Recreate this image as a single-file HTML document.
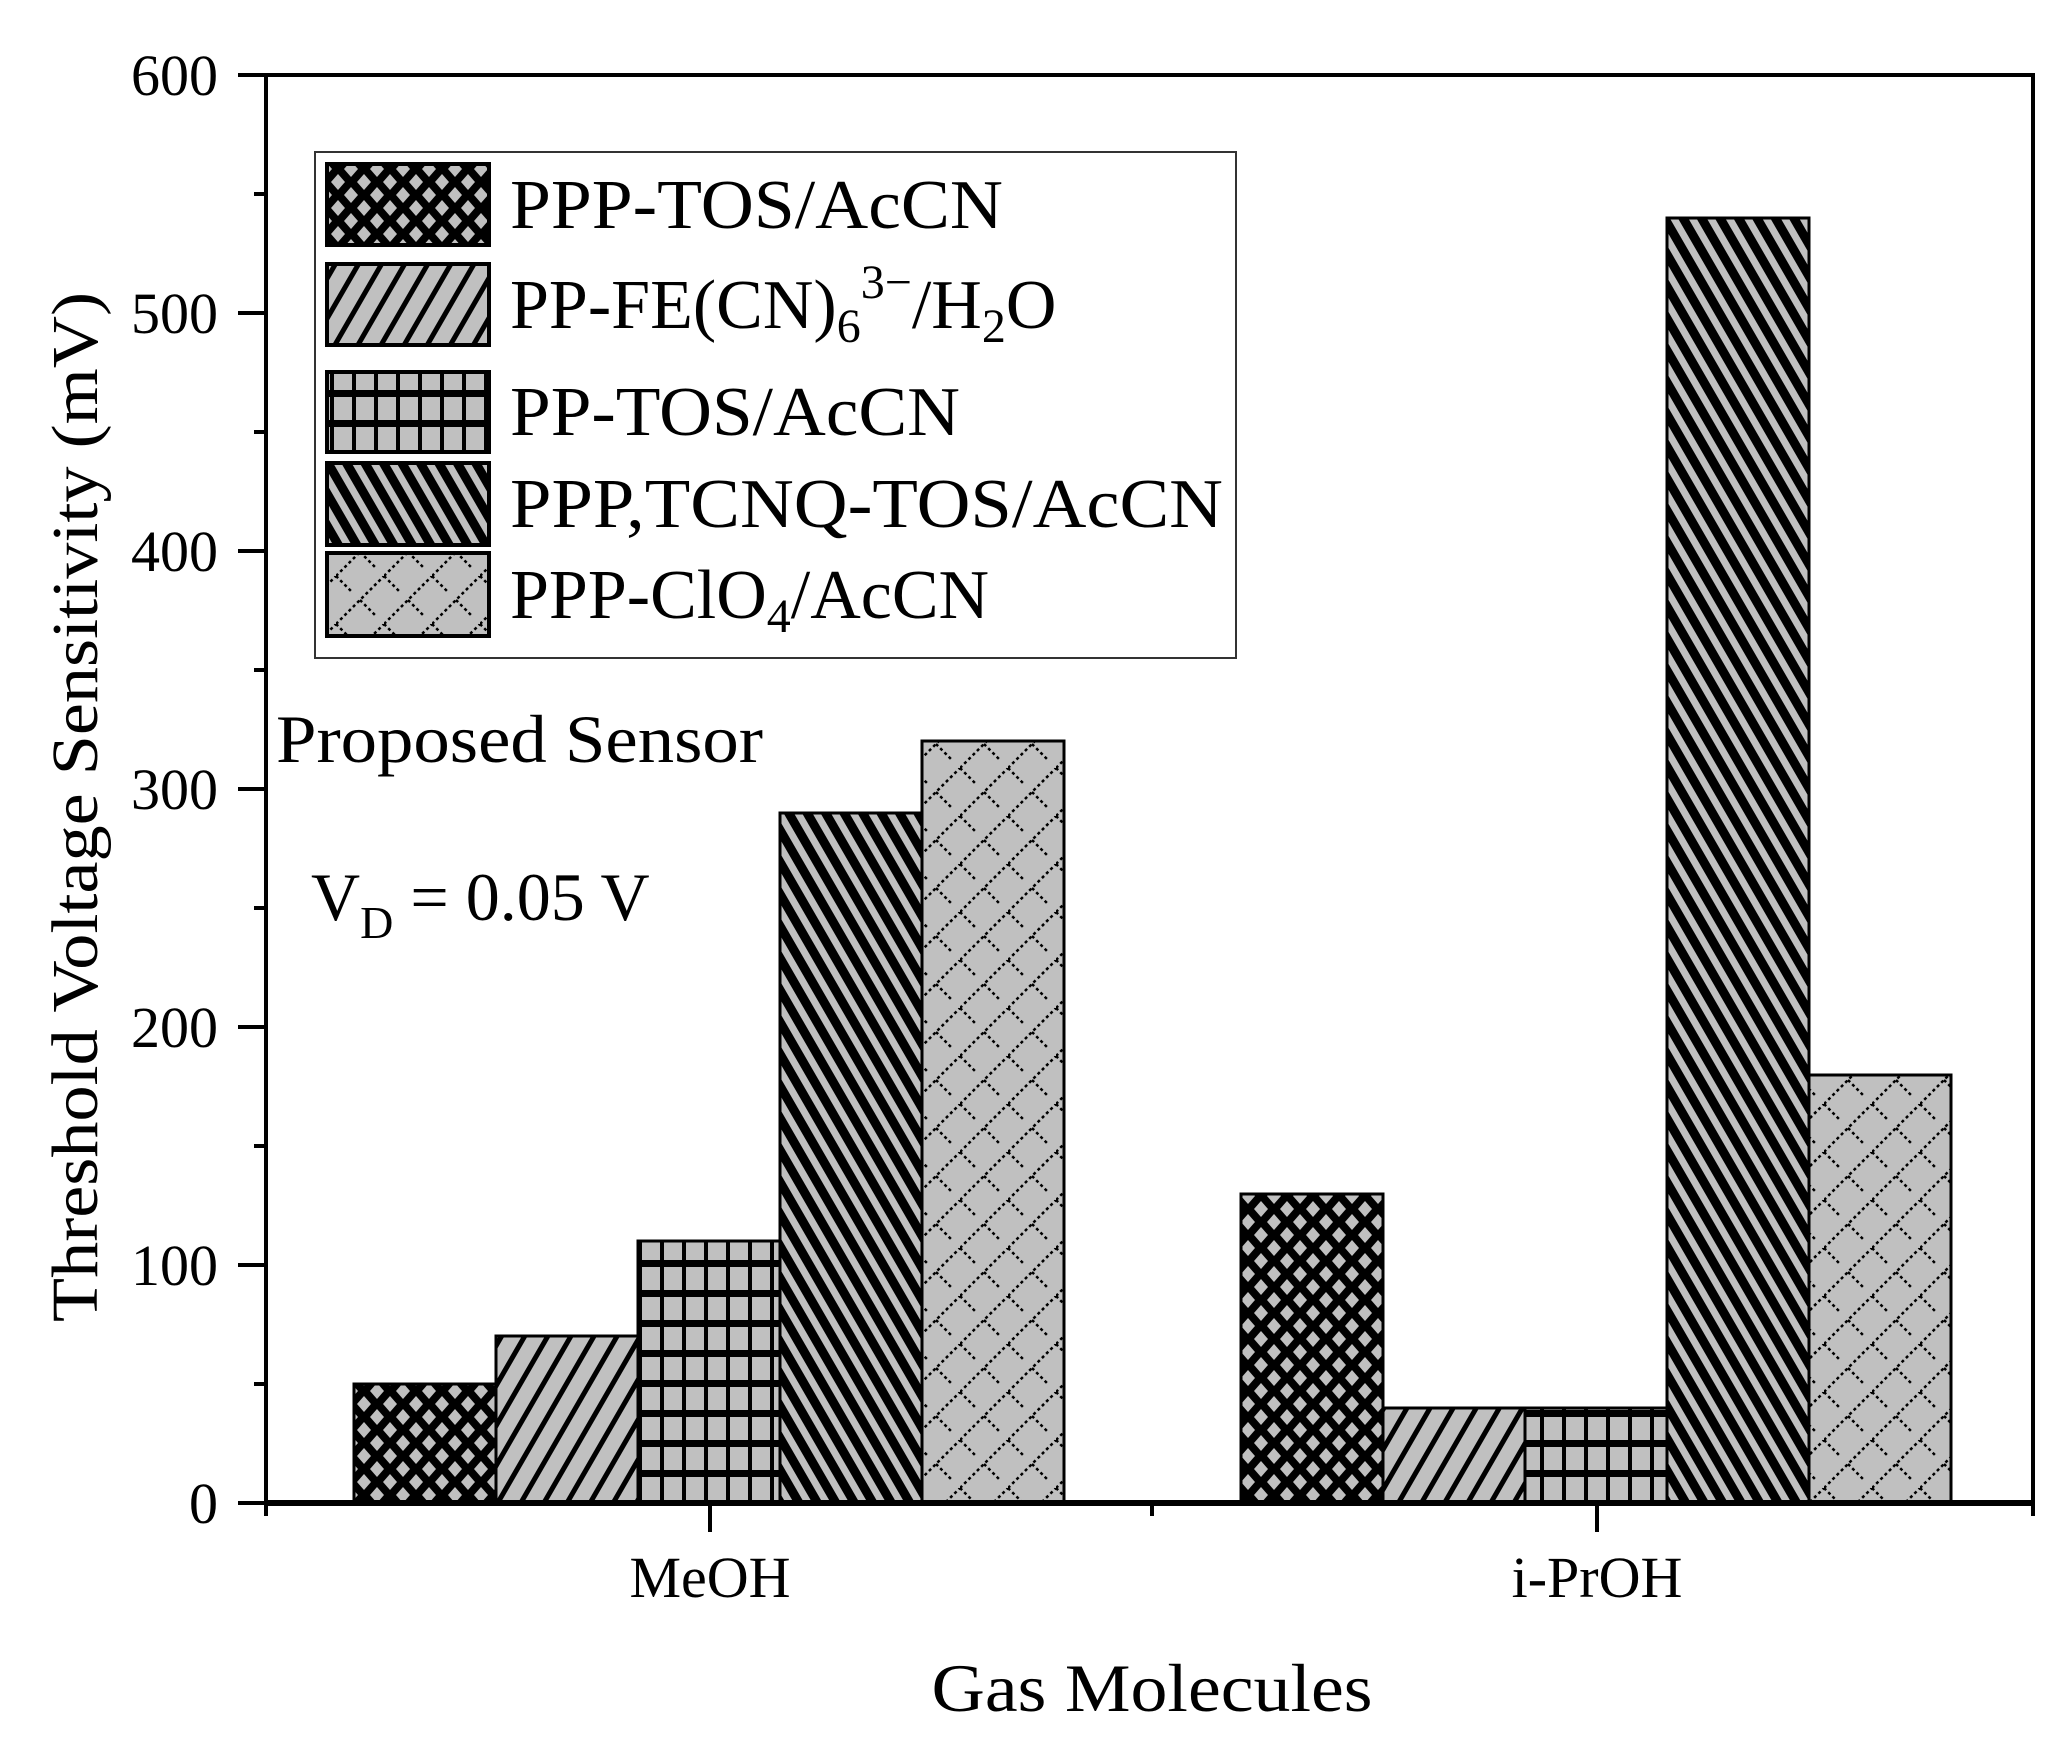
<!DOCTYPE html>
<html><head><meta charset="utf-8"><style>html,body{margin:0;padding:0;background:#fff}svg{display:block}</style></head>
<body>
<svg width="2070" height="1753" viewBox="0 0 2070 1753" xmlns="http://www.w3.org/2000/svg" font-family="'Liberation Serif', serif">
<defs>
<pattern id="p1" width="26" height="26" patternUnits="userSpaceOnUse">
<rect width="26" height="26" fill="#000"/>
<polygon points="13,5 20,13 13,21 6,13" fill="#c0c0c0"/>
<polygon points="0,-8 7,0 0,8 -7,0" fill="#c0c0c0"/>
<polygon points="26,-8 33,0 26,8 19,0" fill="#c0c0c0"/>
<polygon points="0,18 7,26 0,34 -7,26" fill="#c0c0c0"/>
<polygon points="26,18 33,26 26,34 19,26" fill="#c0c0c0"/>
</pattern>
<pattern id="p2" width="20" height="20" patternUnits="userSpaceOnUse" patternTransform="rotate(30)">
<rect width="20" height="20" fill="#c0c0c0"/>
<rect x="0" y="0" width="5" height="20" fill="#000"/>
</pattern>
<pattern id="p3" width="22" height="30" patternUnits="userSpaceOnUse">
<rect width="22" height="30" fill="#c0c0c0"/>
<rect x="0" y="0" width="22" height="7" fill="#000"/>
<rect x="0" y="0" width="4" height="30" fill="#000"/>
</pattern>
<pattern id="p4" width="16" height="16" patternUnits="userSpaceOnUse" patternTransform="rotate(-30)">
<rect width="16" height="16" fill="#c0c0c0"/>
<rect x="0" y="0" width="9" height="16" fill="#000"/>
</pattern>
<pattern id="p5" width="48" height="48" patternUnits="userSpaceOnUse">
<rect width="48" height="48" fill="#c0c0c0"/>
<path d="M0,48 L48,0 M-24,24 L24,-24 M24,72 L72,24" stroke="#000" stroke-width="2.5" stroke-dasharray="3,3"/>
<path d="M24,24 L40,40 M0,0 L16,16" stroke="#000" stroke-width="2.5" stroke-dasharray="3,3"/>
</pattern>
</defs>

<!-- bars -->
<g stroke="#000" stroke-width="3">
<rect x="354" y="1384" width="142" height="119" fill="url(#p1)"/>
<rect x="496" y="1336" width="142" height="167" fill="url(#p2)"/>
<rect x="638" y="1241" width="142" height="262" fill="url(#p3)"/>
<rect x="780" y="813" width="142" height="690" fill="url(#p4)"/>
<rect x="922" y="741" width="142" height="762" fill="url(#p5)"/>
<rect x="1241" y="1194" width="142" height="309" fill="url(#p1)"/>
<rect x="1383" y="1408" width="142" height="95" fill="url(#p2)"/>
<rect x="1525" y="1408" width="142" height="95" fill="url(#p3)"/>
<rect x="1667" y="218" width="142" height="1285" fill="url(#p4)"/>
<rect x="1809" y="1075" width="142" height="428" fill="url(#p5)"/>
</g>

<!-- axes frame -->
<rect x="266" y="75" width="1767" height="1428" fill="none" stroke="#000" stroke-width="4"/>
<line x1="264" y1="1503" x2="2035" y2="1503" stroke="#000" stroke-width="6"/>
<g stroke="#000" stroke-width="4">
<line x1="238" y1="1503" x2="266" y2="1503"/>
<line x1="238" y1="1265" x2="266" y2="1265"/>
<line x1="238" y1="1027" x2="266" y2="1027"/>
<line x1="238" y1="789" x2="266" y2="789"/>
<line x1="238" y1="551" x2="266" y2="551"/>
<line x1="238" y1="313" x2="266" y2="313"/>
<line x1="238" y1="75" x2="266" y2="75"/>
<line x1="254" y1="1384" x2="266" y2="1384"/>
<line x1="254" y1="1146" x2="266" y2="1146"/>
<line x1="254" y1="908" x2="266" y2="908"/>
<line x1="254" y1="670" x2="266" y2="670"/>
<line x1="254" y1="432" x2="266" y2="432"/>
<line x1="254" y1="194" x2="266" y2="194"/>
<line x1="710" y1="1503" x2="710" y2="1532"/>
<line x1="1597" y1="1503" x2="1597" y2="1532"/>
<line x1="1152" y1="1503" x2="1152" y2="1516"/>
<line x1="266" y1="1503" x2="266" y2="1516"/>
<line x1="2033" y1="1503" x2="2033" y2="1516"/>
</g>
<g font-size="58" text-anchor="end" fill="#000">
<text x="218" y="1523">0</text>
<text x="218" y="1285">100</text>
<text x="218" y="1047">200</text>
<text x="218" y="809">300</text>
<text x="218" y="571">400</text>
<text x="218" y="333">500</text>
<text x="218" y="95">600</text>
</g>
<g font-size="58" text-anchor="middle">
<text x="710" y="1597">MeOH</text>
<text x="1597" y="1597">i-PrOH</text>
</g>
<text x="1152" y="1711" font-size="68" text-anchor="middle" textLength="441" lengthAdjust="spacingAndGlyphs">Gas Molecules</text>
<text transform="translate(97,807) rotate(-90)" font-size="66" text-anchor="middle" textLength="1030" lengthAdjust="spacingAndGlyphs">Threshold Voltage Sensitivity (mV)</text>

<text x="276" y="762" font-size="68" textLength="487" lengthAdjust="spacingAndGlyphs">Proposed Sensor</text>
<text x="311" y="920" font-size="68">V<tspan font-size="46" dy="18">D</tspan><tspan dy="-18"> = 0.05 V</tspan></text>

<!-- legend -->
<rect x="315" y="152" width="921" height="506" fill="#fff" stroke="#333" stroke-width="2"/>
<g stroke="#000" stroke-width="4">
<rect x="327" y="164" width="162" height="81" fill="url(#p1)"/>
<rect x="327" y="264" width="162" height="81" fill="url(#p2)"/>
<rect x="327" y="372" width="162" height="80" fill="url(#p3)"/>
<rect x="327" y="463" width="162" height="82" fill="url(#p4)"/>
<rect x="327" y="553" width="162" height="83" fill="url(#p5)"/>
</g>
<g font-size="70">
<text x="510" y="228" textLength="493" lengthAdjust="spacingAndGlyphs">PPP-TOS/AcCN</text>
<text x="510" y="328">PP-FE(CN)<tspan font-size="48" dy="14">6</tspan><tspan font-size="48" dy="-44">3−</tspan><tspan dy="30">/H</tspan><tspan font-size="48" dy="14">2</tspan><tspan dy="-14">O</tspan></text>
<text x="510" y="435" textLength="450" lengthAdjust="spacingAndGlyphs">PP-TOS/AcCN</text>
<text x="510" y="527" textLength="713" lengthAdjust="spacingAndGlyphs">PPP,TCNQ-TOS/AcCN</text>
<text x="510" y="618">PPP-ClO<tspan font-size="48" dy="14">4</tspan><tspan dy="-14">/AcCN</tspan></text>
</g>
</svg>
</body></html>
